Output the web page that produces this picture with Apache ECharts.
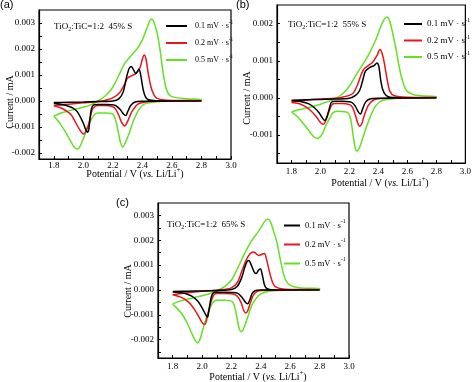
<!DOCTYPE html>
<html><head><meta charset="utf-8">
<script src="https://cdn.jsdelivr.net/npm/echarts@6/dist/echarts.min.js"></script>
<style>html,body{margin:0;padding:0;background:#fff}#c{width:474px;height:382px}</style>
</head><body><div id="c"></div>
<script>
// ---------- data (current in mA, potential in V) ----------
const rateNames = ['0.1', '0.2', '0.5'];
const rateColors = ['#000000', '#e8151b', '#66e024'];
const panelLabels = ['(a)', '(b)', '(c)'];
const sulfurLabels = ['45% S', '55% S', '65% S'];

const xTicks = [1.8,1.9,2.0,2.1,2.2,2.3,2.4,2.5,2.6,2.7,2.8,2.9,3.0];
const xLabels = [1.8,2.0,2.2,2.4,2.6,2.8,3.0];
const yTicksA = [-0.002,-0.0015,-0.001,-0.0005,0,0.0005,0.001,0.0015,0.002,0.0025,0.003];
const yLabelsA = [-0.002,-0.001,0,0.001,0.002,0.003];
const yTicksB = [-0.0015,-0.001,-0.0005,0,0.0005,0.001,0.0015,0.002];
const yLabelsB = [-0.001,0,0.001,0.002];
const yTicksC = [-0.0025,-0.002,-0.0015,-0.001,-0.0005,0,0.0005,0.001,0.0015,0.002,0.0025,0.003];
const yLabelsC = [-0.002,-0.001,0,0.001,0.002,0.003];

// Panel (a)
const a1Anodic = [[1.8,-0.06e-3],[1.9,-0.05e-3],[2.0,-0.04e-3],[2.1,-0.02e-3],[2.2,0.0],[2.24,0.08e-3],[2.27,0.35e-3],[2.29,0.85e-3],[2.31,1.25e-3],[2.325,1.33e-3],[2.34,1.2e-3],[2.355,1.06e-3],[2.365,1.12e-3],[2.377,1.23e-3],[2.39,0.95e-3],[2.405,0.45e-3],[2.42,0.17e-3],[2.44,0.05e-3],[2.5,0.01e-3],[2.6,0.0],[2.8,0.0]];
const a1Cathodic = [[2.8,0.0],[2.5,-0.005e-3],[2.4,-0.01e-3],[2.35,-0.04e-3],[2.32,-0.18e-3],[2.3,-0.42e-3],[2.287,-0.56e-3],[2.272,-0.5e-3],[2.25,-0.33e-3],[2.22,-0.18e-3],[2.2,-0.14e-3],[2.15,-0.13e-3],[2.1,-0.13e-3],[2.07,-0.15e-3],[2.055,-0.3e-3],[2.045,-0.7e-3],[2.037,-1.1e-3],[2.03,-1.2e-3],[2.015,-1.08e-3],[2.0,-0.85e-3],[1.96,-0.42e-3],[1.93,-0.27e-3],[1.89,-0.18e-3],[1.85,-0.13e-3],[1.8,-0.1e-3]];
const a2Anodic = [[1.8,-0.18e-3],[1.9,-0.12e-3],[2.0,-0.07e-3],[2.1,-0.02e-3],[2.15,0.03e-3],[2.2,0.12e-3],[2.25,0.35e-3],[2.28,0.65e-3],[2.3,0.88e-3],[2.33,0.98e-3],[2.36,1.08e-3],[2.385,1.3e-3],[2.4,1.62e-3],[2.413,1.77e-3],[2.425,1.6e-3],[2.44,1.05e-3],[2.46,0.5e-3],[2.48,0.22e-3],[2.5,0.1e-3],[2.55,0.04e-3],[2.65,0.02e-3],[2.8,0.01e-3]];
const a2Cathodic = [[2.8,0.0],[2.5,-0.01e-3],[2.42,-0.04e-3],[2.37,-0.12e-3],[2.33,-0.4e-3],[2.3,-0.78e-3],[2.28,-0.96e-3],[2.262,-0.85e-3],[2.24,-0.55e-3],[2.22,-0.32e-3],[2.2,-0.22e-3],[2.15,-0.17e-3],[2.1,-0.17e-3],[2.08,-0.2e-3],[2.06,-0.35e-3],[2.03,-1.0e-3],[2.0,-1.27e-3],[1.97,-1.05e-3],[1.95,-0.85e-3],[1.92,-0.55e-3],[1.89,-0.4e-3],[1.85,-0.27e-3],[1.8,-0.18e-3]];
const a3Anodic = [[1.8,-0.58e-3],[1.85,-0.46e-3],[1.9,-0.38e-3],[1.95,-0.31e-3],[2.0,-0.24e-3],[2.05,-0.15e-3],[2.1,0.0],[2.15,0.2e-3],[2.19,0.45e-3],[2.22,0.75e-3],[2.25,1.1e-3],[2.28,1.45e-3],[2.31,1.65e-3],[2.34,1.85e-3],[2.37,2.05e-3],[2.4,2.35e-3],[2.43,2.8e-3],[2.452,3.1e-3],[2.465,3.14e-3],[2.48,3.0e-3],[2.5,2.6e-3],[2.52,1.95e-3],[2.54,1.1e-3],[2.56,0.5e-3],[2.58,0.25e-3],[2.61,0.15e-3],[2.7,0.09e-3],[2.8,0.05e-3]];
const a3Cathodic = [[2.8,0.02e-3],[2.6,0.0],[2.5,-0.03e-3],[2.42,-0.1e-3],[2.38,-0.3e-3],[2.34,-0.75e-3],[2.31,-1.25e-3],[2.285,-1.6e-3],[2.267,-1.77e-3],[2.252,-1.6e-3],[2.237,-1.2e-3],[2.222,-0.8e-3],[2.207,-0.55e-3],[2.19,-0.48e-3],[2.15,-0.46e-3],[2.1,-0.46e-3],[2.08,-0.5e-3],[2.06,-0.65e-3],[2.03,-1.0e-3],[2.0,-1.45e-3],[1.98,-1.72e-3],[1.962,-1.85e-3],[1.94,-1.78e-3],[1.91,-1.5e-3],[1.88,-1.2e-3],[1.84,-0.85e-3],[1.8,-0.58e-3]];

// Panel (b)
const b1Anodic = [[1.8,-0.06e-3],[1.9,-0.05e-3],[2.0,-0.04e-3],[2.1,-0.03e-3],[2.2,-0.01e-3],[2.24,0.06e-3],[2.27,0.2e-3],[2.29,0.45e-3],[2.31,0.72e-3],[2.34,0.82e-3],[2.37,0.87e-3],[2.39,0.94e-3],[2.403,0.85e-3],[2.415,0.5e-3],[2.43,0.22e-3],[2.45,0.08e-3],[2.48,0.02e-3],[2.6,0.0],[2.8,0.0]];
const b1Cathodic = [[2.8,0.0],[2.4,-0.005e-3],[2.34,-0.03e-3],[2.31,-0.12e-3],[2.29,-0.3e-3],[2.277,-0.43e-3],[2.262,-0.38e-3],[2.24,-0.22e-3],[2.22,-0.13e-3],[2.2,-0.1e-3],[2.15,-0.09e-3],[2.1,-0.09e-3],[2.075,-0.12e-3],[2.06,-0.3e-3],[2.045,-0.5e-3],[2.03,-0.61e-3],[2.015,-0.55e-3],[1.99,-0.4e-3],[1.96,-0.27e-3],[1.92,-0.16e-3],[1.87,-0.1e-3],[1.8,-0.07e-3]];
const b2Anodic = [[1.8,-0.1e-3],[1.9,-0.06e-3],[2.0,-0.03e-3],[2.1,-0.01e-3],[2.15,0.02e-3],[2.2,0.07e-3],[2.23,0.15e-3],[2.26,0.4e-3],[2.28,0.62e-3],[2.3,0.78e-3],[2.33,0.87e-3],[2.36,0.96e-3],[2.39,1.14e-3],[2.41,1.3e-3],[2.425,1.2e-3],[2.44,0.95e-3],[2.46,0.5e-3],[2.48,0.17e-3],[2.51,0.06e-3],[2.6,0.02e-3],[2.8,0.01e-3]];
const b2Cathodic = [[2.8,0.0],[2.45,-0.01e-3],[2.37,-0.05e-3],[2.33,-0.2e-3],[2.3,-0.5e-3],[2.285,-0.7e-3],[2.27,-0.76e-3],[2.255,-0.65e-3],[2.24,-0.45e-3],[2.22,-0.25e-3],[2.2,-0.18e-3],[2.15,-0.15e-3],[2.1,-0.15e-3],[2.08,-0.18e-3],[2.06,-0.35e-3],[2.04,-0.58e-3],[2.02,-0.71e-3],[2.0,-0.66e-3],[1.97,-0.5e-3],[1.93,-0.33e-3],[1.89,-0.22e-3],[1.85,-0.15e-3],[1.8,-0.12e-3]];
const b3Anodic = [[1.8,-0.38e-3],[1.85,-0.32e-3],[1.9,-0.27e-3],[1.95,-0.23e-3],[2.0,-0.17e-3],[2.05,-0.1e-3],[2.1,-0.02e-3],[2.15,0.1e-3],[2.2,0.32e-3],[2.25,0.65e-3],[2.3,0.95e-3],[2.34,1.22e-3],[2.38,1.55e-3],[2.41,1.86e-3],[2.44,2.12e-3],[2.458,2.18e-3],[2.475,2.1e-3],[2.495,1.8e-3],[2.52,1.35e-3],[2.54,0.9e-3],[2.56,0.55e-3],[2.58,0.3e-3],[2.6,0.17e-3],[2.65,0.08e-3],[2.72,0.05e-3],[2.8,0.04e-3]];
const b3Cathodic = [[2.8,0.02e-3],[2.6,0.0],[2.5,-0.02e-3],[2.42,-0.08e-3],[2.38,-0.22e-3],[2.35,-0.45e-3],[2.32,-0.75e-3],[2.29,-1.1e-3],[2.27,-1.33e-3],[2.252,-1.43e-3],[2.24,-1.35e-3],[2.225,-1.0e-3],[2.21,-0.6e-3],[2.195,-0.42e-3],[2.17,-0.37e-3],[2.12,-0.36e-3],[2.09,-0.39e-3],[2.07,-0.5e-3],[2.04,-0.72e-3],[2.01,-0.98e-3],[1.98,-1.09e-3],[1.95,-1.03e-3],[1.92,-0.88e-3],[1.88,-0.68e-3],[1.84,-0.5e-3],[1.8,-0.38e-3]];

// Panel (c)
const c1Anodic = [[1.8,-0.06e-3],[1.9,-0.05e-3],[2.0,-0.04e-3],[2.1,-0.02e-3],[2.2,0.02e-3],[2.24,0.15e-3],[2.27,0.5e-3],[2.29,0.9e-3],[2.305,1.13e-3],[2.318,1.19e-3],[2.335,1.0e-3],[2.355,0.72e-3],[2.368,0.66e-3],[2.383,0.78e-3],[2.397,0.85e-3],[2.41,0.6e-3],[2.425,0.2e-3],[2.44,0.06e-3],[2.47,0.01e-3],[2.6,0.0],[2.8,0.0]];
const c1Cathodic = [[2.8,0.0],[2.4,-0.005e-3],[2.36,-0.03e-3],[2.34,-0.15e-3],[2.325,-0.4e-3],[2.31,-0.56e-3],[2.295,-0.5e-3],[2.27,-0.28e-3],[2.24,-0.13e-3],[2.2,-0.1e-3],[2.15,-0.09e-3],[2.1,-0.09e-3],[2.075,-0.12e-3],[2.06,-0.35e-3],[2.047,-0.8e-3],[2.037,-1.1e-3],[2.025,-1.0e-3],[2.0,-0.72e-3],[1.97,-0.45e-3],[1.93,-0.25e-3],[1.88,-0.13e-3],[1.8,-0.08e-3]];
const c2Anodic = [[1.8,-0.19e-3],[1.9,-0.11e-3],[2.0,-0.05e-3],[2.1,-0.01e-3],[2.15,0.02e-3],[2.2,0.08e-3],[2.24,0.3e-3],[2.27,0.75e-3],[2.3,1.2e-3],[2.325,1.45e-3],[2.35,1.53e-3],[2.37,1.45e-3],[2.385,1.39e-3],[2.405,1.43e-3],[2.424,1.47e-3],[2.44,1.2e-3],[2.46,0.7e-3],[2.48,0.3e-3],[2.5,0.12e-3],[2.55,0.04e-3],[2.65,0.02e-3],[2.8,0.01e-3]];
const c2Cathodic = [[2.8,0.0],[2.45,-0.01e-3],[2.38,-0.04e-3],[2.35,-0.2e-3],[2.33,-0.5e-3],[2.31,-0.85e-3],[2.298,-0.93e-3],[2.285,-0.85e-3],[2.265,-0.5e-3],[2.24,-0.25e-3],[2.21,-0.16e-3],[2.15,-0.14e-3],[2.1,-0.14e-3],[2.08,-0.2e-3],[2.06,-0.5e-3],[2.04,-0.95e-3],[2.02,-1.38e-3],[2.005,-1.35e-3],[1.98,-1.1e-3],[1.95,-0.8e-3],[1.91,-0.5e-3],[1.86,-0.3e-3],[1.8,-0.19e-3]];
const c3Anodic = [[1.8,-0.56e-3],[1.85,-0.45e-3],[1.9,-0.37e-3],[1.95,-0.3e-3],[2.0,-0.23e-3],[2.05,-0.15e-3],[2.1,-0.04e-3],[2.15,0.12e-3],[2.2,0.4e-3],[2.24,0.85e-3],[2.28,1.35e-3],[2.31,1.7e-3],[2.34,2.0e-3],[2.37,2.25e-3],[2.4,2.5e-3],[2.425,2.75e-3],[2.446,2.86e-3],[2.465,2.75e-3],[2.485,2.4e-3],[2.51,1.9e-3],[2.53,1.3e-3],[2.55,0.75e-3],[2.57,0.38e-3],[2.6,0.18e-3],[2.65,0.1e-3],[2.72,0.07e-3],[2.8,0.06e-3]];
const c3Cathodic = [[2.8,0.03e-3],[2.6,0.0],[2.5,-0.03e-3],[2.42,-0.1e-3],[2.38,-0.25e-3],[2.34,-0.6e-3],[2.31,-1.1e-3],[2.29,-1.45e-3],[2.27,-1.68e-3],[2.255,-1.6e-3],[2.24,-1.2e-3],[2.225,-0.75e-3],[2.21,-0.5e-3],[2.19,-0.43e-3],[2.15,-0.42e-3],[2.1,-0.42e-3],[2.08,-0.46e-3],[2.06,-0.65e-3],[2.03,-1.1e-3],[2.0,-1.7e-3],[1.985,-2.0e-3],[1.97,-2.13e-3],[1.955,-2.05e-3],[1.93,-1.75e-3],[1.9,-1.35e-3],[1.86,-0.95e-3],[1.8,-0.56e-3]];

// ---------- layout ----------
const FONT = 'Liberation Serif';
const panels = [
  {grid:{left:39, top:10, width:192, height:149}, yMin:-0.00223, yMax:0.0035, yTicks:yTicksA, yLabels:yLabelsA,
   curves:[[a1Anodic,a1Cathodic],[a2Anodic,a2Cathodic],[a3Anodic,a3Cathodic]],
   legend:{left:165, top:20, itemWidth:21, itemGap:7, fontSize:8, textPad:3}, xMargin:2,
   tag:[0,-1], note:[54,27], yName:[10,102], xName:[135,174]},
  {grid:{left:277, top:5, width:189, height:158}, yMin:-0.00175, yMax:0.0025, yTicks:yTicksB, yLabels:yLabelsB,
   curves:[[b1Anodic,b1Cathodic],[b2Anodic,b2Cathodic],[b3Anodic,b3Cathodic]],
   legend:{left:403, top:17.5, itemWidth:18, itemGap:5.5, fontSize:9, textPad:0}, xMargin:4,
   tag:[236,-1], note:[288,25], yName:[247,98], xName:[380,183]},
  {grid:{left:158, top:203, width:191, height:155}, yMin:-0.00274, yMax:0.0035, yTicks:yTicksC, yLabels:yLabelsC,
   curves:[[c1Anodic,c1Cathodic],[c2Anodic,c2Cathodic],[c3Anodic,c3Cathodic]],
   legend:{left:283, top:219, itemWidth:16, itemGap:8, fontSize:8.5, textPad:0}, xMargin:4,
   tag:[116,197], note:[167,225], yName:[128,291], xName:[258,377]}
];

const grids = [], xAxes = [], yAxes = [], series = [], legends = [], graphics = [];
panels.forEach((p, i) => {
  grids.push(Object.assign({show:true, borderColor:'#000', borderWidth:1.2, backgroundColor:'transparent'}, p.grid));
  xAxes.push({type:'value', gridIndex:i, min:1.7, max:3.0,
    axisLine:{show:true, onZero:false, lineStyle:{color:'#000', width:1.2}},
    axisTick:{show:true, inside:true, length:3, customValues:xTicks, lineStyle:{color:'#000', width:1}},
    axisLabel:{customValues:xLabels, formatter:v=>v.toFixed(1), fontFamily:FONT, fontSize:9, color:'#000', margin:p.xMargin},
    splitLine:{show:false}});
  yAxes.push({type:'value', gridIndex:i, min:p.yMin, max:p.yMax,
    axisLine:{show:true, onZero:false, lineStyle:{color:'#000', width:1.2}},
    axisTick:{show:true, inside:true, length:3, customValues:p.yTicks, lineStyle:{color:'#000', width:1}},
    axisLabel:{customValues:p.yLabels, formatter:v=>(Math.abs(v)<1e-9?0:v).toFixed(3), fontFamily:FONT, fontSize:9, color:'#000', margin:4},
    splitLine:{show:false}});
  p.curves.forEach((c, r) => {
    series.push({type:'line', name:rateNames[r], xAxisIndex:i, yAxisIndex:i,
      data:c[0].concat(c[1]), symbol:'none', showSymbol:false, smooth:0.3,
      lineStyle:{color:rateColors[r], width:1.5}, itemStyle:{color:rateColors[r]}, z:3-r+2});
  });
  legends.push({orient:'vertical', left:p.legend.left, top:p.legend.top, itemWidth:p.legend.itemWidth, itemHeight:10,
    itemGap:p.legend.itemGap, padding:0, data:rateNames, selectedMode:false,
    itemStyle:{opacity:0},
    formatter:n=>'{t|'+n+' mV · s}{sup|-1}',
    textStyle:{fontFamily:FONT, fontSize:p.legend.fontSize, color:'#000', rich:{
      t:{fontFamily:FONT, fontSize:p.legend.fontSize, padding:[0,0,0,p.legend.textPad]},
      sup:{fontFamily:FONT, fontSize:p.legend.fontSize*0.66, padding:[0,0,7,0]}}}});
  graphics.push({type:'text', x:p.tag[0], y:p.tag[1], style:{text:panelLabels[i], font:'11px "Liberation Sans"', fill:'#000', align:'left', verticalAlign:'top'}});
  graphics.push({type:'text', x:p.note[0], y:p.note[1], style:{text:'TiO{sub|2}:TiC=1:2  '+sulfurLabels[i],
    fontFamily:FONT, fontSize:9, fill:'#000', align:'left', verticalAlign:'middle',
    rich:{sub:{fontFamily:FONT, fontSize:6, padding:[5,0,0,0]}}}});
  graphics.push({type:'text', x:p.yName[0], y:p.yName[1], rotation:Math.PI/2, style:{text:'Current / mA',
    fontFamily:FONT, fontSize:10, fill:'#000', align:'center', verticalAlign:'middle'}});
  graphics.push({type:'text', x:p.xName[0], y:p.xName[1], style:{text:'Potential / V ({i|vs.} Li/Li{sup|+})',
    fontFamily:FONT, fontSize:10, fill:'#000', align:'center', verticalAlign:'middle',
    rich:{i:{fontFamily:FONT, fontSize:10, fontStyle:'italic'}, sup:{fontFamily:FONT, fontSize:6.5, padding:[0,0,7,0]}}}});
});

const chart = echarts.init(document.getElementById('c'), null, {renderer:'canvas'});
chart.setOption({animation:false, backgroundColor:'#fff', grid:grids, xAxis:xAxes, yAxis:yAxes,
  series:series, legend:legends, graphic:graphics, tooltip:{show:false}});
</script></body></html>
